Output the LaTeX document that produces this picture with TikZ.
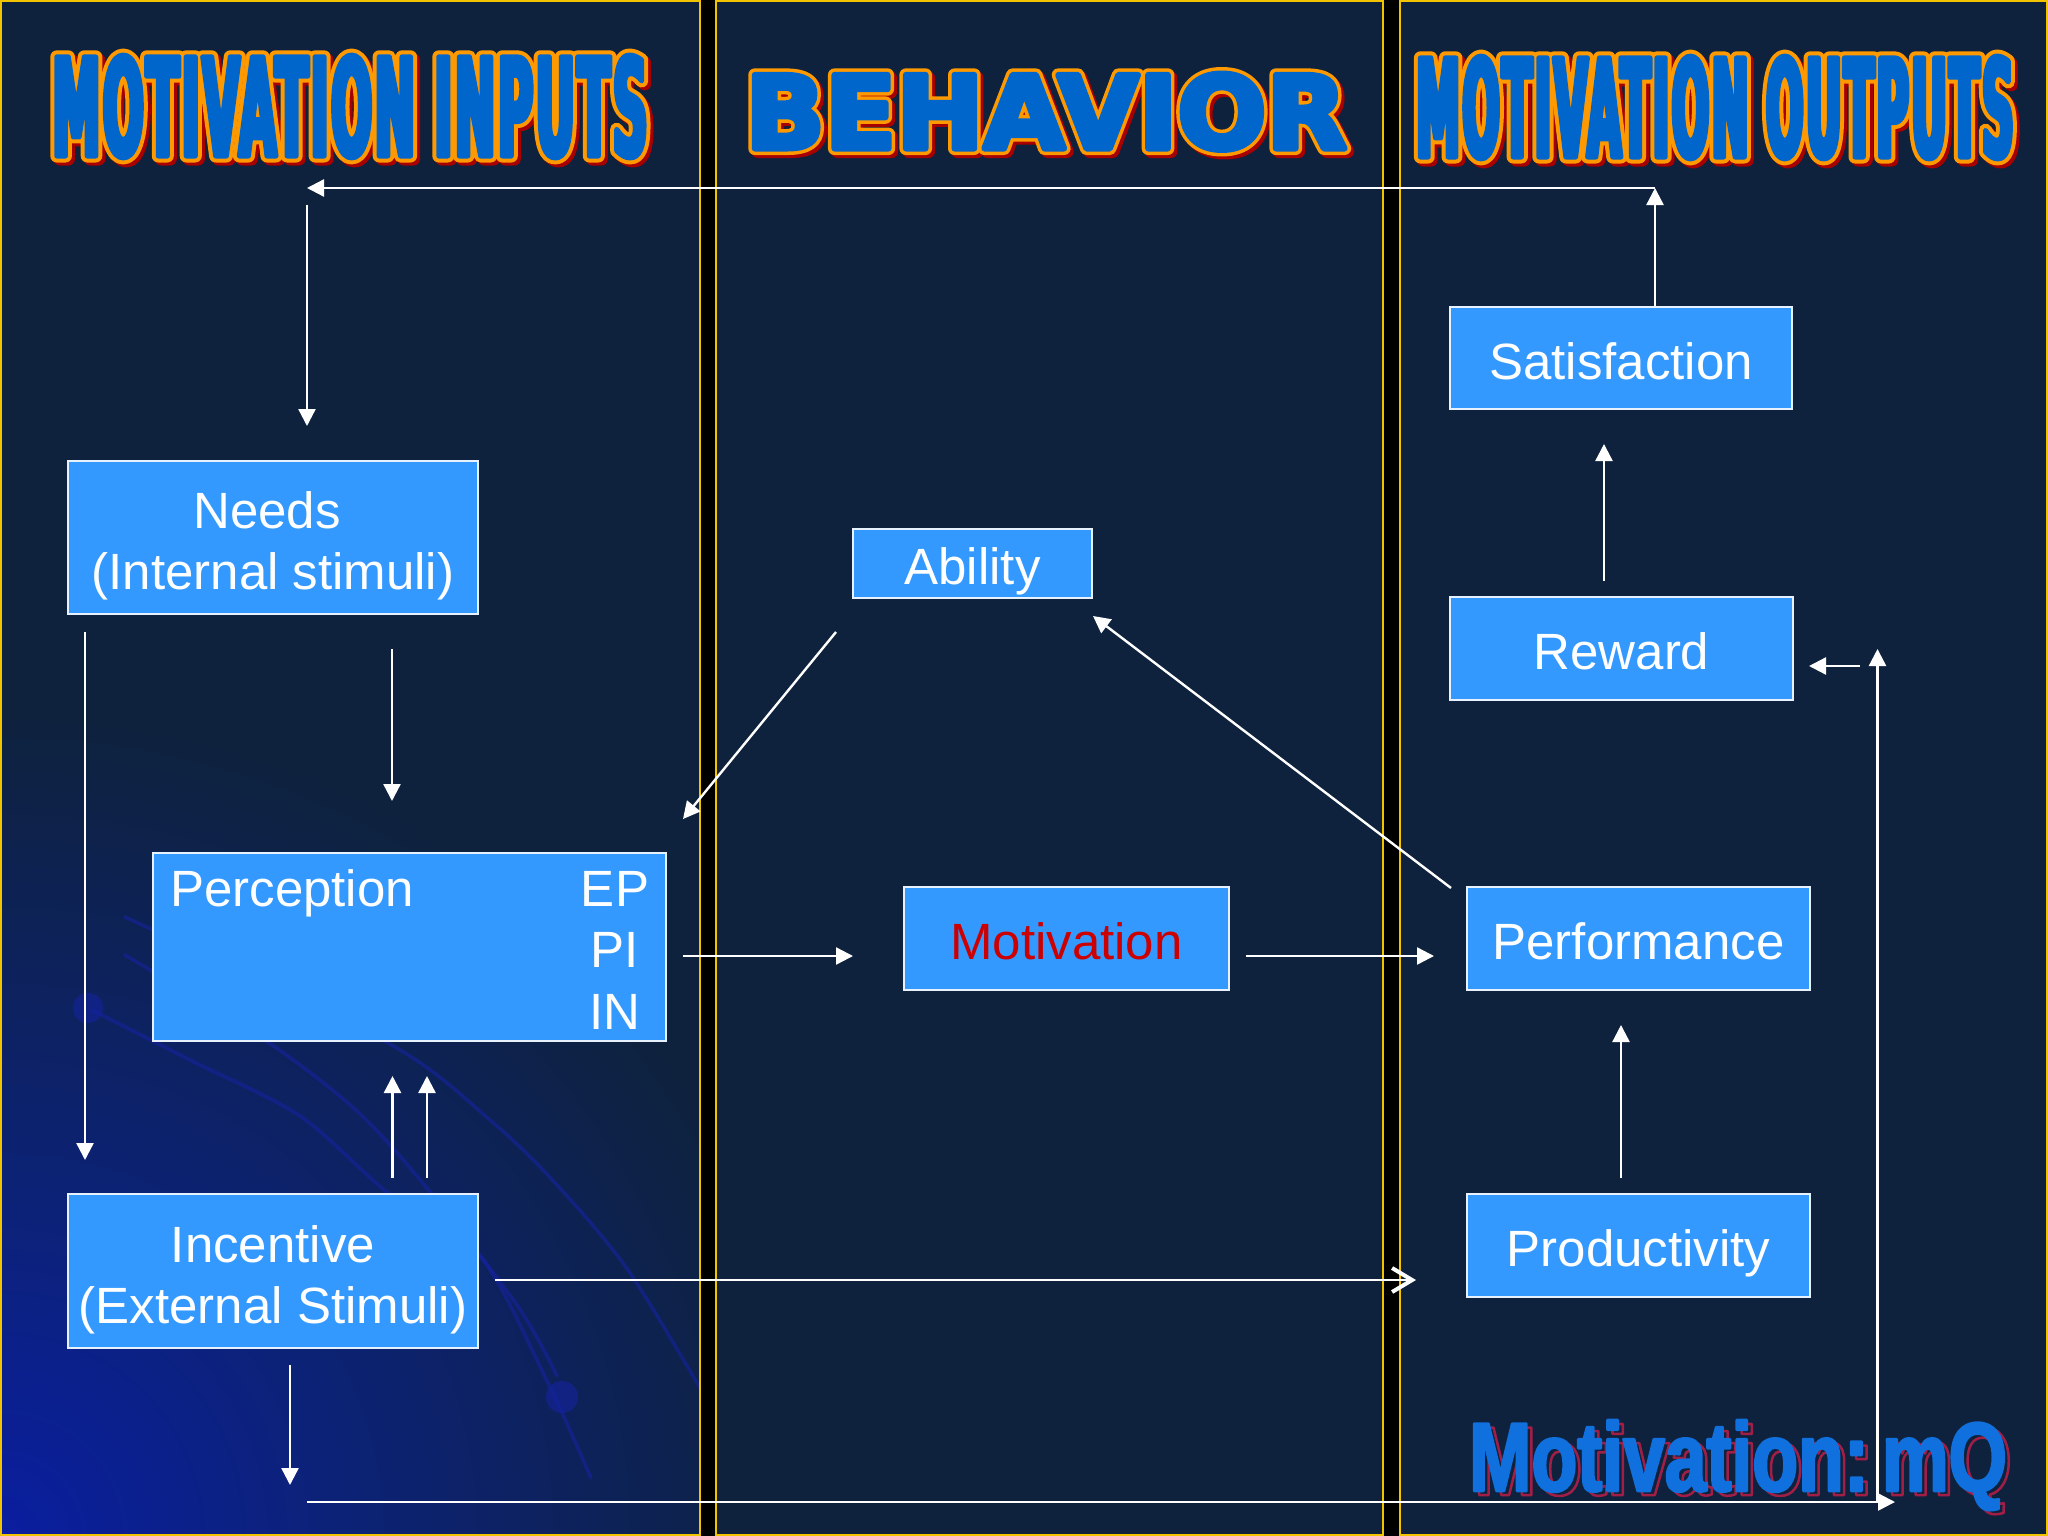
\documentclass[tikz,border=0pt]{standalone}
\usepackage{fontspec}
\usepackage{graphicx}
\setmainfont{Liberation Sans}
\newfontfamily\titleA{DejaVu Sans}[FakeStretch=0.353,LetterSpace=2]
\newfontfamily\titleB{DejaVu Sans}[FakeStretch=1.035]
\newfontfamily\titleC{DejaVu Sans}[FakeStretch=0.321,LetterSpace=2]
\newfontfamily\footF{Liberation Sans}[FakeStretch=0.765,WordSpace=0.3]
\usetikzlibrary{arrows.meta}
\definecolor{bgnavy}{HTML}{0E223E}
\definecolor{glowA}{HTML}{0A1EA0}
\definecolor{glowB}{HTML}{0C2278}
\definecolor{panelline}{HTML}{F2C400}
\definecolor{boxblue}{HTML}{3399FF}
\definecolor{boxline}{HTML}{E8F2FF}
\definecolor{curveblue}{HTML}{14239A}
\definecolor{motred}{HTML}{CC0000}
\pgfdeclareradialshading{glow}{\pgfpoint{0bp}{0bp}}{color(0bp)=(glowA);color(10bp)=(glowB);color(25bp)=(bgnavy);color(50bp)=(bgnavy)}
\newcommand\artlayer[3]{\special{pdf:code 2 Tr #1 w 1 j #2 RG #2 rg}#3\special{pdf:code 0 Tr 1 w 0 G 0 g}}
\newcommand\wordart[2][5]{\rlap{\kern3pt\raisebox{-3pt}{\artlayer{13}{.65 0 0}{#2}}}\rlap{\artlayer{13}{1 .6 0}{#2}}\artlayer{#1}{0 .4 .8}{#2}}
\newcommand\footart[1]{\rlap{\kern5pt\raisebox{-4pt}{\special{pdf:code 1 Tr 2.5 w 1 j .63 .12 .28 RG}#1\special{pdf:code 0 Tr 1 w 0 G 0 g}}}\artlayer{2.5}{.06 .44 .87}{#1}}
\tikzset{
 panel/.style={draw=panelline,line width=2pt,fill=bgnavy},
 boxnode/.style={draw=boxline,line width=2pt,fill=boxblue,text=white,inner sep=0pt,
   font=\fontsize{51pt}{61pt}\selectfont},
 onebox/.style={boxnode,text height=44pt,text depth=2pt},
 twobox/.style={boxnode,align=center},
 inlabel/.style={text=white,inner sep=0pt,anchor=base,font=\fontsize{51pt}{61pt}\selectfont},
 conn/.style={draw=white,line width=2.4pt,-{Triangle[length=17pt,width=17pt]}},
 openconn/.style={draw=white,line width=2.4pt,-{Straight Barb[length=20pt,width=24pt,line width=4pt]}},
 swoosh/.style={draw=curveblue,line width=3.5pt,opacity=.65,line cap=round},
 blob/.style={fill=curveblue,opacity=.65},
 arttitle/.style={inner sep=0pt,anchor=base},
}
\begin{document}
\begin{tikzpicture}[x=1pt,y=-1pt]
\useasboundingbox (0,0) rectangle (2048,1536);
\fill[black] (0,0) rectangle (2048,1536);
% panels
\draw[panel] (1,1) rectangle (700,1535);
\draw[panel] (716,1) rectangle (1383,1535);
\draw[panel] (1400,1) rectangle (2047,1535);
\begin{scope}
\clip (2,2) rectangle (699,1534);
\shade[shading=glow] (0,1536) circle (820);
\draw[swoosh] plot[smooth] coordinates {(92,1010) (190,1060) (300,1116) (388,1193) (480,1256) (548,1383) (591,1478)};
\draw[swoosh] plot[smooth] coordinates {(125,955) (269,1043) (359,1113) (431,1193) (519,1308) (557,1376)};
\draw[swoosh] plot[smooth] coordinates {(125,917) (388,1043) (490,1120) (557,1185) (630,1273) (717,1417)};
\fill[blob] (88,1008) ellipse (15 and 15);
\fill[blob] (562,1397) ellipse (16 and 16);
\end{scope}
\draw[panel,fill=none] (1,1) rectangle (700,1535);
% titles
\node[arttitle] (tinputs) at (350,156) {\titleA\bfseries\fontsize{136pt}{136pt}\selectfont\wordart{MOTIVATION INPUTS}};
\node[arttitle] (tbehav) at (1046,148.5) {\titleB\bfseries\fontsize{101pt}{101pt}\selectfont\wordart[6]{BEHAVIOR}};
\node[arttitle] (toutputs) at (1715,157) {\titleC\bfseries\fontsize{136pt}{136pt}\selectfont\wordart{MOTIVATION OUTPUTS}};
\node[arttitle] (tfoot) at (1738,1491) {\footF\bfseries\fontsize{98pt}{98pt}\selectfont\footart{Motivation: mQ}};
% boxes
\node[twobox,minimum width=410pt,minimum height=153pt] (needs) at (273,537.5) {\rule{0pt}{53pt}Needs\hspace*{12pt}\\(Internal stimuli)};
\node[boxnode,minimum width=513pt,minimum height=188pt] (perc) at (409.5,947) {};
\node[inlabel,anchor=base west] (perclabel) at (170,906) {Perception};
\node[inlabel] (ep) at (615,906) {EP};
\node[inlabel] (pi) at (615,967) {PI};
\node[inlabel] (in) at (615,1029) {IN};
\node[twobox,minimum width=410pt,minimum height=154pt] (incent) at (273,1271) {\rule{0pt}{54pt}Incentive\\(External Stimuli)};
\node[onebox,minimum width=239pt,minimum height=69pt] (ability) at (972.5,563.5) {Ability};
\node[onebox,minimum width=325pt,minimum height=103pt,text=motred] (motiv) at (1066.5,938.5) {Motivation};
\node[onebox,minimum width=342pt,minimum height=102pt] (satis) at (1621,358) {Satisfaction};
\node[onebox,minimum width=343pt,minimum height=103pt] (reward) at (1621.5,648.5) {Reward};
\node[onebox,minimum width=343pt,minimum height=103pt] (perf) at (1638.5,938.5) {Performance};
\node[onebox,minimum width=343pt,minimum height=103pt] (prod) at (1638.5,1245.5) {Productivity};
% free ends
\coordinate (topR) at (1655,188);
\coordinate (topL) at (307,188);
\coordinate (dA) at (307,205);
\coordinate (dB) at (307,426);
\coordinate (lA) at (85,632);
\coordinate (lB) at (85,1160);
\coordinate (nA) at (392,649);
\coordinate (nB) at (392,801);
\coordinate (abA) at (836,632);
\coordinate (abB) at (683,819);
\coordinate (pmA) at (683,956);
\coordinate (pmB) at (853,956);
\coordinate (mpA) at (1246,956);
\coordinate (mpB) at (1434,956);
\coordinate (paA) at (1451,888);
\coordinate (paB) at (1093,616);
\coordinate (rsA) at (1604,581);
\coordinate (rsB) at (1604,444);
\coordinate (ppA) at (1621,1178);
\coordinate (ppB) at (1621,1025);
\coordinate (iaA) at (392.5,1178);
\coordinate (iaB) at (392.5,1076);
\coordinate (ibA) at (427,1178);
\coordinate (ibB) at (427,1076);
\coordinate (ixA) at (495,1280);
\coordinate (ixB) at (1416,1280);
\coordinate (idA) at (290,1365);
\coordinate (idB) at (290,1485);
\coordinate (bA) at (307,1502);
\coordinate (bB) at (1895,1502);
\coordinate (upA) at (1877.5,1502);
\coordinate (upB) at (1877.5,649);
\coordinate (rwA) at (1860,666);
\coordinate (rwB) at (1809,666);
% connectors
\draw[conn] (topR) -- (topL);
\draw[conn] (satis.north -| topR) -- (topR);
\draw[conn] (dA) -- (dB);
\draw[conn] (lA) -- (lB);
\draw[conn] (nA) -- (nB);
\draw[conn] (abA) -- (abB);
\draw[conn] (pmA) -- (pmB);
\draw[conn] (mpA) -- (mpB);
\draw[conn] (paA) -- (paB);
\draw[conn] (rsA) -- (rsB);
\draw[conn] (ppA) -- (ppB);
\draw[conn] (iaA) -- (iaB);
\draw[conn] (ibA) -- (ibB);
\draw[openconn] (ixA) -- (ixB);
\draw[conn] (idA) -- (idB);
\draw[conn] (bA) -- (bB);
\draw[conn] (upA) -- (upB);
\draw[conn] (rwA) -- (rwB);
\end{tikzpicture}
\end{document}
